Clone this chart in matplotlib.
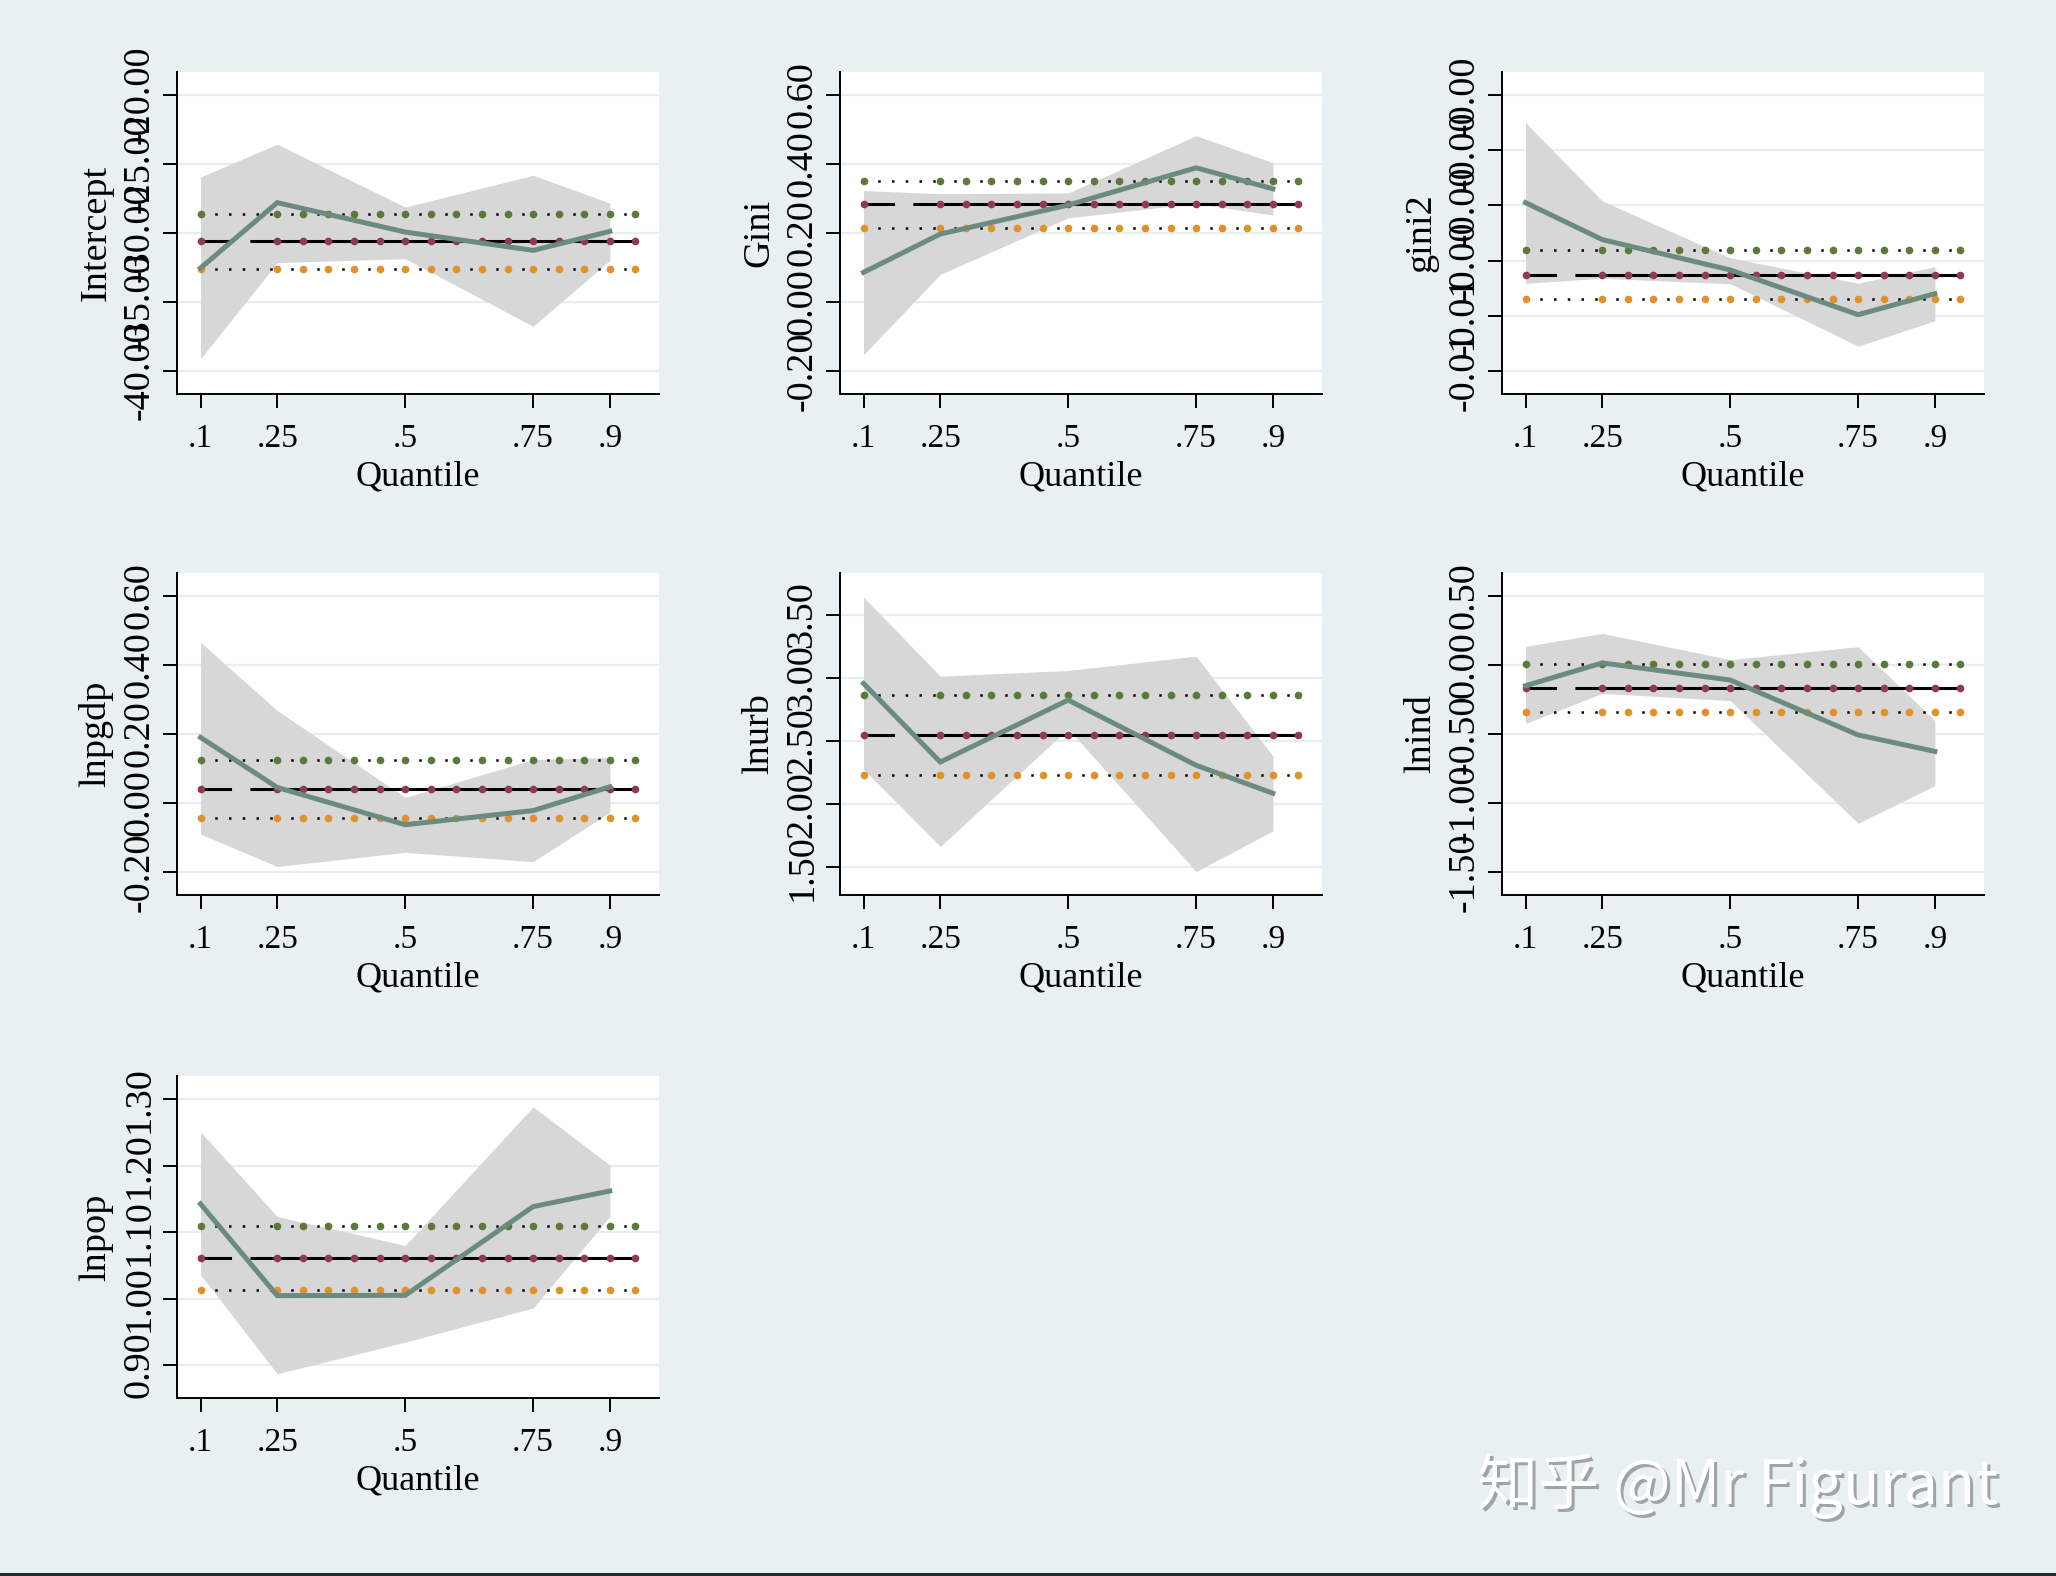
import matplotlib
matplotlib.use('Agg')
import matplotlib.pyplot as plt
from matplotlib import transforms

plt.rcParams['font.family'] = ['Liberation Serif', 'DejaVu Serif']

# quantile grid and the grid the OLS lines are drawn on
quantiles = [0.10, 0.25, 0.50, 0.75, 0.90]
q_labels = ['.1', '.25', '.5', '.75', '.9']
ols_q = [0.10, 0.25, 0.30, 0.35, 0.40, 0.45, 0.50, 0.55, 0.60,
         0.65, 0.70, 0.75, 0.80, 0.85, 0.90, 0.95]

# quantile regression estimates: coef, lower CI, upper CI
# OLS: coef, lower CI, upper CI
intercept_coef = [-32.54, -27.80, -29.93, -31.26, -29.88]
intercept_lo = [-39.11, -32.15, -31.86, -36.76, -31.98]
intercept_hi = [-25.94, -23.57, -28.12, -25.82, -27.83]
intercept_ols = [-30.58, -32.58, -28.60]

gini_coef = [0.086, 0.197, 0.281, 0.389, 0.328]
gini_lo = [-0.153, 0.080, 0.244, 0.286, 0.252]
gini_hi = [0.323, 0.314, 0.316, 0.482, 0.404]
gini_ols = [0.283, 0.2135, 0.351]

gini2_coef = [-0.00295, -0.00362, -0.00417, -0.00498, -0.00460]
gini2_lo = [-0.00441, -0.00432, -0.00442, -0.00555, -0.00509]
gini2_hi = [-0.00150, -0.00292, -0.00395, -0.00441, -0.00411]
gini2_ols = [-0.00426, -0.00470, -0.00381]

lnpgdp_coef = [0.190, 0.045, -0.063, -0.022, 0.047]
lnpgdp_lo = [-0.090, -0.184, -0.143, -0.170, -0.027]
lnpgdp_hi = [0.466, 0.268, 0.016, 0.126, 0.132]
lnpgdp_ols = [0.041, -0.044, 0.125]

lnurb_coef = [2.955, 2.334, 2.824, 2.308, 2.087]
lnurb_lo = [2.276, 1.666, 2.597, 1.468, 1.789]
lnurb_hi = [3.639, 3.013, 3.058, 3.171, 2.382]
lnurb_ols = [2.545, 2.232, 2.861]

lnind_coef = [-0.150, 0.015, -0.109, -0.507, -0.626]
lnind_lo = [-0.423, -0.205, -0.258, -1.147, -0.874]
lnind_hi = [0.135, 0.229, 0.039, 0.133, -0.403]
lnind_ols = [-0.167, -0.338, 0.005]

lnpop_coef = [1.1425, 1.0045, 1.005, 1.1385, 1.162]
lnpop_lo = [1.036, 0.887, 0.9345, 0.986, 1.1235]
lnpop_hi = [1.251, 1.1235, 1.080, 1.2885, 1.201]
lnpop_ols = [1.061, 1.0125, 1.110]

# axis ticks for every panel
intercept_ticks = [-40, -35, -30, -25, -20]
gini_ticks = [-0.2, 0.0, 0.2, 0.4, 0.6]
gini2_ticks = [-0.006, -0.005, -0.004, -0.003, -0.002, -0.001]
lnpgdp_ticks = [-0.2, 0.0, 0.2, 0.4, 0.6]
lnurb_ticks = [1.5, 2.0, 2.5, 3.0, 3.5]
lnind_ticks = [-1.5, -1.0, -0.5, 0.0, 0.5]
lnpop_ticks = [0.9, 1.0, 1.1, 1.2, 1.3]

panels = [
    ('Intercept', intercept_coef, intercept_lo, intercept_hi, intercept_ols, intercept_ticks, (-41.667, -18.333)),
    ('Gini', gini_coef, gini_lo, gini_hi, gini_ols, gini_ticks, (-0.2667, 0.6667)),
    ('gini2', gini2_coef, gini2_lo, gini2_hi, gini2_ols, gini2_ticks, (-0.006417, -0.000583)),
    ('lnpgdp', lnpgdp_coef, lnpgdp_lo, lnpgdp_hi, lnpgdp_ols, lnpgdp_ticks, (-0.2667, 0.6667)),
    ('lnurb', lnurb_coef, lnurb_lo, lnurb_hi, lnurb_ols, lnurb_ticks, (1.282, 3.829)),
    ('lnind', lnind_coef, lnind_lo, lnind_hi, lnind_ols, lnind_ticks, (-1.667, 0.667)),
    ('lnpop', lnpop_coef, lnpop_lo, lnpop_hi, lnpop_ols, lnpop_ticks, (0.8505, 1.335)),
]

BG = '#e8f0f2'
GRID = '#e6eef0'
BAND = '#d7d7d7'
LINE = '#6c8b7f'
OLS_MID = '#8e3b4e'
OLS_HI = '#5b7a3a'
OLS_LO = '#e0922a'

W, H = 2056, 1576
fig = plt.figure(figsize=(W / 100, H / 100), dpi=100, facecolor=BG)

col_left = [177, 840, 1502]
row_top = [72, 573, 1076]
pw, ph = 482, 322


def ols_line(ax, y, ls, lw, mcolor):
    # segment by segment, so the dash pattern starts again at each point
    for i in range(len(ols_q) - 1):
        ax.plot(ols_q[i:i + 2], [y, y], color='black', lw=lw, ls=ls,
                dash_capstyle='butt', zorder=3)
    ax.plot(ols_q, [y] * len(ols_q), ls='none', marker='o', ms=4.5,
            mfc=mcolor, mec=mcolor, zorder=4)


for k, (name, coef, lo, hi, ols, ticks, ylim) in enumerate(panels):
    r, c = divmod(k, 3)
    left = col_left[c] / W
    bottom = 1 - (row_top[r] + ph) / H
    ax = fig.add_axes([left, bottom, pw / W, ph / H])
    ax.set_facecolor('white')

    for t in ticks:
        ax.axhline(t, color=GRID, lw=1.6, zorder=0)

    ax.fill_between(quantiles, lo, hi, color=BAND, lw=0, zorder=1)

    ols_line(ax, ols[0], (0, (10, 6)), 2.2, OLS_MID)
    ols_line(ax, ols[1], (0, (1, 4.5)), 1.8, OLS_LO)
    ols_line(ax, ols[2], (0, (1, 4.5)), 1.8, OLS_HI)

    ax.plot(quantiles, coef, color=LINE, lw=3.6, zorder=5,
            solid_joinstyle='miter')

    ax.set_xlim(0.054, 0.996)
    ax.set_ylim(*ylim)
    ax.set_xticks(quantiles)
    ax.set_xticklabels(q_labels)
    ax.set_yticks(ticks)
    ax.set_yticklabels(['%.2f' % t for t in ticks])

    for s in ['top', 'right']:
        ax.spines[s].set_visible(False)
    for s in ['left', 'bottom']:
        ax.spines[s].set_linewidth(1.4)

    ax.tick_params(axis='both', direction='out', length=10, width=1.4,
                   colors='black')
    ax.tick_params(axis='x', pad=11, labelsize=24)
    ax.tick_params(axis='y', pad=5, labelsize=27.5)
    plt.setp(ax.get_yticklabels(), rotation=90, va='center')

    ax.set_xlabel('Quantile', fontsize=26, labelpad=5)
    ax.set_ylabel(name, fontsize=27.5, labelpad=6)

# watermark
wm_font = ['Noto Sans CJK SC', 'DejaVu Sans']
wm_x, wm_y = 1480 / W, 1 - 1507 / H
fig.text(wm_x, wm_y, '知乎 @Mr Figurant', fontsize=44,
         color='#a0a4a6', family=wm_font, va='baseline', ha='left')
offset = transforms.offset_copy(fig.transFigure, fig=fig, x=-3, y=3, units='dots')
fig.text(wm_x, wm_y, '知乎 @Mr Figurant', fontsize=44,
         color='white', family=wm_font, va='baseline', ha='left',
         transform=offset)

# dark strip along the bottom edge
fig.add_artist(plt.Rectangle((0, 0), 1, 3 / H, transform=fig.transFigure,
                             color='#2a2a2a', lw=0))

fig.savefig('out.png', dpi=100, facecolor=BG)
